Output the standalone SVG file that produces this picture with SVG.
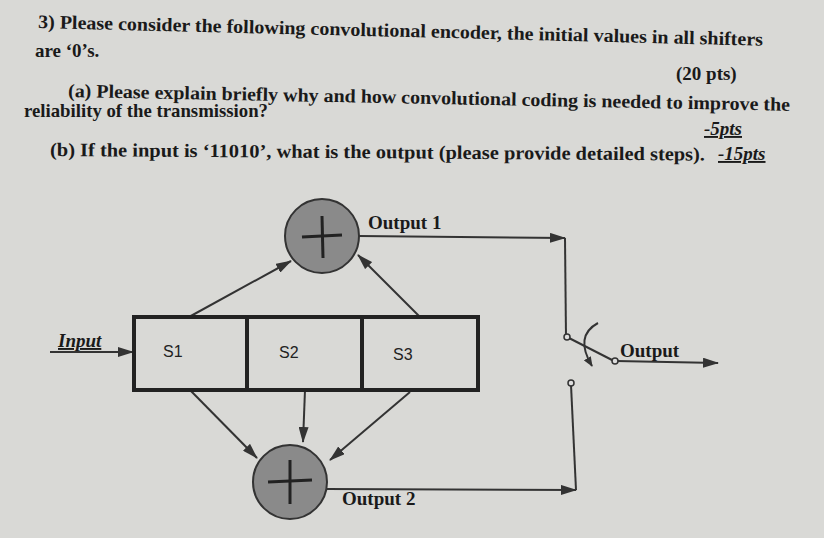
<svg xmlns="http://www.w3.org/2000/svg" width="824" height="538" viewBox="0 0 824 538">
<style>
.t{font-family:"Liberation Serif",serif;font-size:19px;fill:#1a1a1a;font-weight:bold}
.s{font-family:"Liberation Sans",sans-serif;font-size:16px;fill:#222}
.l{stroke:#333;stroke-width:2;fill:none}
.add{fill:#8a8a8a;stroke:#333;stroke-width:2}
.plus{stroke:#222;stroke-width:3}
</style>
<defs>
<marker id="a" markerWidth="10" markerHeight="8" refX="9" refY="4" orient="auto" markerUnits="userSpaceOnUse"><path d="M0,0 L10,4 L0,8 Z" fill="#333"/></marker>
<marker id="b" markerWidth="16" markerHeight="10" refX="15" refY="5" orient="auto" markerUnits="userSpaceOnUse"><path d="M0,0 L16,5 L0,10 Z" fill="#333"/></marker>
</defs>
<rect width="824" height="538" fill="#d9d9d6"/>
<g id="text">
<text class="t" x="38" y="28" transform="rotate(1.4 38 28)" textLength="725" lengthAdjust="spacingAndGlyphs">3) Please consider the following convolutional encoder, the initial values in all shifters</text>
<text class="t" x="35" y="57">are ‘0’s.</text>
<text class="t" x="676" y="80">(20 pts)</text>
<text class="t" x="68" y="97" transform="rotate(1.1 68 97)" textLength="722" lengthAdjust="spacingAndGlyphs">(a) Please explain briefly why and how convolutional coding is needed to improve the</text>
<text class="t" x="24" y="117" textLength="244" lengthAdjust="spacingAndGlyphs">reliability of the transmission?</text>
<text class="t" x="704" y="135" font-style="italic" text-decoration="underline" font-size="16" font-weight="normal">-5pts</text>
<text class="t" x="50" y="156" transform="rotate(0.4 50 156)" textLength="655" lengthAdjust="spacingAndGlyphs">(b) If the input is ‘11010’, what is the output (please provide detailed steps).</text>
<text class="t" x="718" y="160" font-style="italic" text-decoration="underline" font-size="17">-15pts</text>
</g>
<g id="connectors">
<line class="l" x1="50" y1="352" x2="133" y2="352" marker-end="url(#b)"/>
<line class="l" x1="189" y1="317" x2="291" y2="261" marker-end="url(#b)"/>
<line class="l" x1="420" y1="317" x2="358" y2="255" marker-end="url(#b)"/>
<line class="l" x1="359" y1="236" x2="565" y2="238" marker-end="url(#b)"/>
<polyline class="l" points="565,238 566,337"/>
<line class="l" x1="190" y1="390" x2="257" y2="458" marker-end="url(#b)"/>
<line class="l" x1="305" y1="390" x2="303" y2="442" marker-end="url(#b)"/>
<line class="l" x1="410" y1="392" x2="330" y2="460" marker-end="url(#b)"/>
<line class="l" x1="327" y1="489" x2="576" y2="490" marker-end="url(#b)"/>
<line class="l" x1="576" y1="490" x2="571" y2="385"/>
<line class="l" x1="567" y1="337" x2="614" y2="361"/>
<path class="l" d="M598,323 Q574,336 592,366" marker-end="url(#a)"/>
<line class="l" x1="616" y1="361" x2="718" y2="363" marker-end="url(#b)"/>
<circle cx="567" cy="337" r="3" fill="#ddd" stroke="#333" stroke-width="1.5"/>
<circle cx="571" cy="383" r="3" fill="#ddd" stroke="#333" stroke-width="1.5"/>
<circle cx="615" cy="361" r="3" fill="#ddd" stroke="#333" stroke-width="1.5"/>
<text class="t" x="58" y="347" font-style="italic" text-decoration="underline" font-size="17">Input</text>
<text class="t" x="368" y="229" font-size="17">Output 1</text>
<text class="t" x="342" y="505" font-size="17">Output 2</text>
<text class="t" x="620" y="357" font-size="17">Output</text>
</g>
<g id="adder1">
<circle class="add" cx="322" cy="236" r="37"/>
<line class="plus" x1="302" y1="237" x2="342" y2="235"/><line class="plus" x1="322" y1="216" x2="323" y2="258"/>
</g>
<g id="adder2">
<circle class="add" cx="290" cy="482" r="37"/>
<line class="plus" x1="268" y1="482" x2="312" y2="480"/><line class="plus" x1="290" y1="460" x2="290" y2="504"/>
</g>
<g id="register">
<rect x="134" y="317" width="344" height="73" fill="none" stroke="#222" stroke-width="4"/>
<line x1="247" y1="317" x2="247" y2="390" stroke="#222" stroke-width="4"/>
<line x1="362" y1="317" x2="362" y2="390" stroke="#222" stroke-width="4"/>
<text class="s" x="163" y="357">S1</text>
<text class="s" x="279" y="358">S2</text>
<text class="s" x="393" y="360">S3</text>
</g>
</svg>
